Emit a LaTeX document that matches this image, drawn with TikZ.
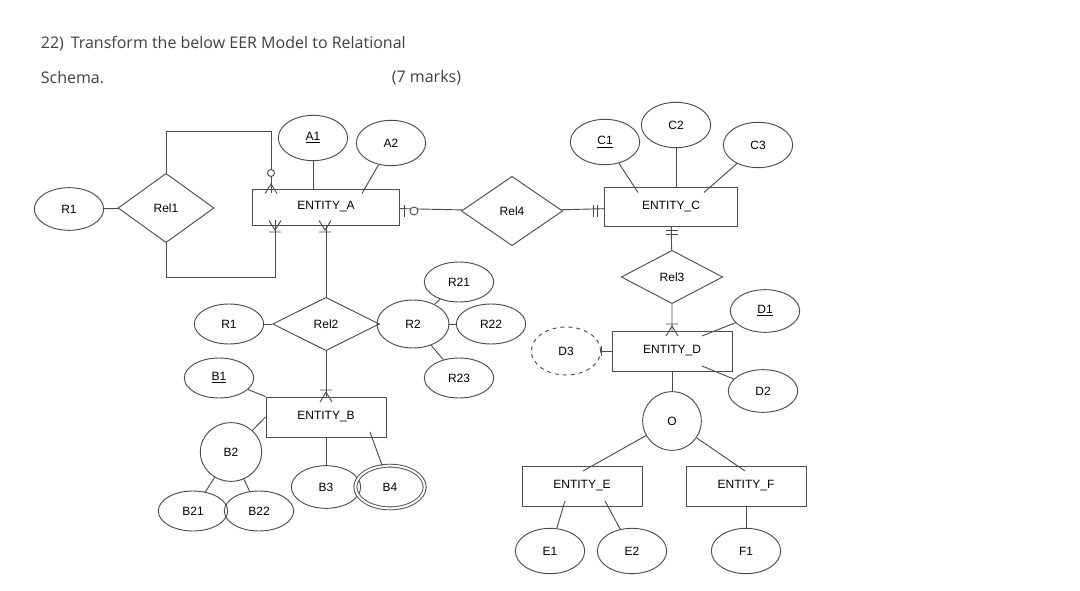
\documentclass[tikz,border=0pt]{standalone}
\usepackage{fontspec}
\setmainfont{Liberation Sans}
\newfontfamily\titlefont{Open Sans}
\usetikzlibrary{shapes.geometric,calc}
\tikzset{
% attribute ovals, relationship diamonds and entity boxes
attr/.style={ellipse,draw,minimum width=52,minimum height=32,inner sep=0,font=\small},
rel/.style={diamond,draw,aspect=1.5,inner sep=0,font=\small},
ent/.style={rectangle,draw,inner sep=0,font=\small},
lnk/.style={draw,line width=0.7pt},
title/.style={anchor=west,font=\titlefont\large,text=black!75}
}
\begin{document}
\begin{tikzpicture}[x=0.75pt,y=-0.75pt,line width=0.7pt,draw=black!70]
      \useasboundingbox (0,0) rectangle (1080,591);
      % Question text
      \node[title] (q1) at (36,44) {22)\, Transform the below EER Model to Relational};
      \node[title] (q2) at (36,78) {Schema.};
      \node[title] (q3) at (387,78) {(7 marks)};
      % Entities
      \node[ent,minimum width=110,minimum height=27] (ea) at (326,207) {ENTITY\_A};
      \node[ent,minimum width=100,minimum height=29] (ec) at (671,207) {ENTITY\_C};
      \node[ent,minimum width=90,minimum height=30] (ed) at (672,351) {ENTITY\_D};
      \node[ent,minimum width=90,minimum height=30] (eb) at (326,417) {ENTITY\_B};
      \node[ent,minimum width=90,minimum height=30] (ee) at (582,486) {ENTITY\_E};
      \node[ent,minimum width=90,minimum height=30] (ef) at (746,486) {ENTITY\_F};
      % Relationships
      \node[rel,minimum width=72,minimum height=52] (r1) at (166,208) {Rel1};
      \node[rel,minimum width=76,minimum height=52] (r4) at (512,211) {Rel4};
      \node[rel,minimum width=80,minimum height=40] (r2) at (326,324) {Rel2};
      \node[rel,minimum width=76,minimum height=40] (r3) at (672,277) {Rel3};
      \node[circle,draw,minimum size=44,inner sep=0,font=\small] (o) at (672,421) {O};
      % Attributes
      \node[attr] (ra) at (69,209) {R1};
      \node[attr,minimum height=34] (a1) at (313,138) {\underline{A1}};
      \node[attr,minimum height=34] (a2) at (391,143) {A2};
      \node[attr,minimum height=30] (rb) at (229,324) {R1};
      \node[attr,minimum width=54,minimum height=36] (rc) at (413,324) {R2};
      \node[attr,minimum height=30] (rc1) at (459,282) {R21};
      \node[attr,minimum height=30] (rc2) at (491,324) {R22};
      \node[attr,minimum height=30] (rc3) at (459,378) {R23};
      \node[attr,minimum height=30] (b1) at (219,378) {\underline{B1}};
      \node[attr,minimum width=46,minimum height=44] (b2) at (231,452) {B2};
      \node[attr,minimum height=30] (b21) at (193,511) {B21};
      \node[attr,minimum height=30] (b22) at (259,511) {B22};
      \node[attr,minimum height=32] (b3) at (326,487) {B3};
      \node[attr,minimum height=32,double,double distance=1.5pt] (b4) at (390,487) {B4};
      \node[attr,minimum height=34] (c1) at (605,142) {\underline{C1}};
      \node[attr,minimum height=34] (c2) at (676,125) {C2};
      \node[attr,minimum height=34] (c3) at (758,145) {C3};
      \node[attr,minimum height=32] (d1) at (765,311) {\underline{D1}};
      \node[attr,minimum height=32] (d2) at (763,391) {D2};
      \node[attr,dashed,minimum height=36] (d3) at (566,351) {D3};
      \node[attr,minimum height=34] (e1) at (550,551) {E1};
      \node[attr,minimum height=34] (e2) at (632,551) {E2};
      \node[attr,minimum height=34] (f1) at (746,551) {F1};
      % Attribute links
      \draw (ra) -- (r1);
      \draw (a1) -- (a1 |- ea.north);
      \draw (a2) -- (362,193.5);
      \draw (rb) -- (r2) -- (rc);
      \draw (rc) -- (rc1); \draw (rc) -- (rc2); \draw (rc) -- (rc3);
      \draw (b1) -- (eb.north west);
      \draw (b2) -- (eb.west); \draw (b2) -- (b21); \draw (b2) -- (b22);
      \draw (b3) -- (b3 |- eb.south); \draw (b4) -- (370,432);
      \draw (c1) -- (638,192.5); \draw (c2) -- (c2 |- ec.north); \draw (c3) -- (704,192.5);
      \draw (d1) -- (702,336); \draw (d2) -- (702,366);
      \draw (d3) -- (ed.west);
      \draw (d3.east) ++(0,-5) -- ++(0,10);
      \draw (ed) -- (o); \draw (o) -- (583,471); \draw (o) -- (745,471);
      \draw (e1) -- (565,501); \draw (e2) -- (605,501); \draw (f1) -- (ef);
      % Rel1 recursive loop
      \coordinate (lt) at (271,193.5);
      \coordinate (lb) at (275,220.5);
      \draw (r1.north) -- (166,131) -- (271,131) -- (lt);
      \draw (r1.south) -- (166,277) -- (275,277) -- (lb);
      \draw[fill=white] (271,173) circle (3.5);
      \draw (265,193.5) -- (271,184) -- (277,193.5);
      \draw (269,220.5) -- (275,230) -- (281,220.5) (269,232) -- (281,232);
      % Rel2 and Rel4 links
      \draw (ea) -- (r2) -- (eb);
      \draw (319,220.5) -- (325,230) -- (331,220.5) (319,232) -- (331,232);
      \draw (320,402) -- (326,392) -- (332,402) (320,390) -- (332,390);
      \draw (ea) -- (r4) -- (ec);
      \draw (404,205) -- (404,217); \draw[fill=white] (414,211) circle (4);
      \draw (593,205) -- (593,217) (597,205) -- (597,217);
      % Rel3 links
      \draw (ec) -- (r3) -- (ed);
      \draw (666,230) -- (678,230) (666,234) -- (678,234);
      \draw (666,336) -- (672,326) -- (678,336) (666,324) -- (678,324);
\end{tikzpicture}
\end{document}
